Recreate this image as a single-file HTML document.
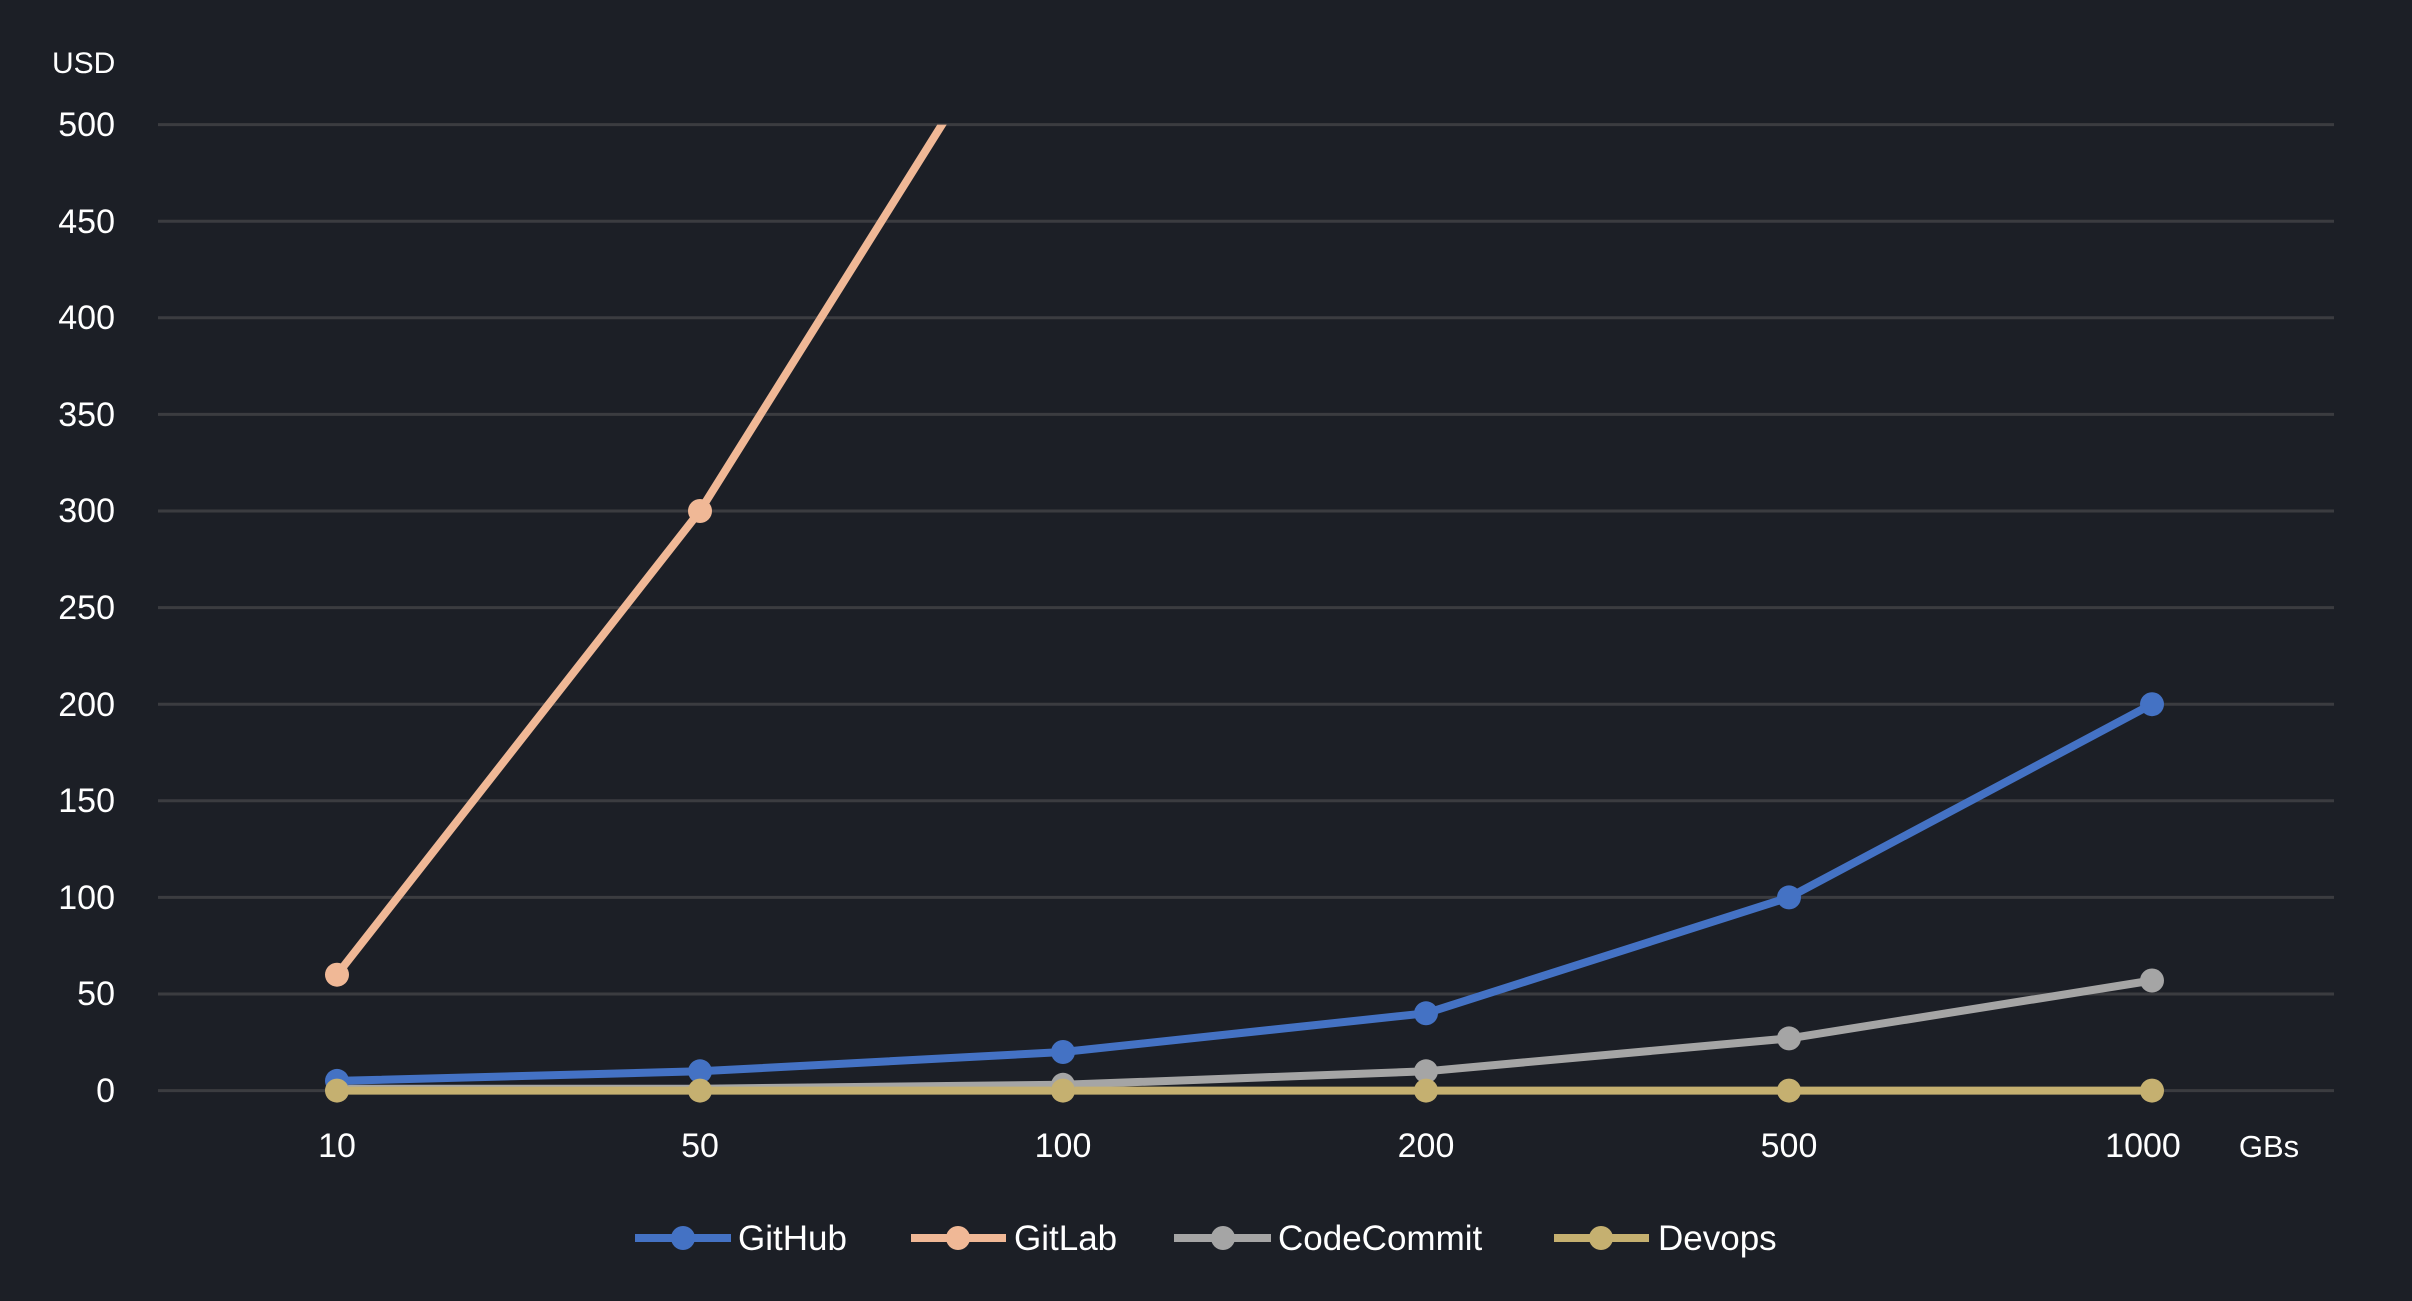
<!DOCTYPE html>
<html><head><meta charset="utf-8"><style>
html,body{margin:0;padding:0;background:#1c1f26;}
svg{display:block;font-family:"Liberation Sans",sans-serif;}
</style></head><body>
<svg width="2412" height="1301" viewBox="0 0 2412 1301" xmlns="http://www.w3.org/2000/svg">
<rect width="2412" height="1301" fill="#1c1f26"/>
<defs><clipPath id="c"><rect x="150" y="124.6" width="2200" height="1000"/></clipPath></defs>
<g stroke="#3b3c40" stroke-width="3">
<line x1="158" x2="2334" y1="124.6" y2="124.6"/>
<line x1="158" x2="2334" y1="221.2" y2="221.2"/>
<line x1="158" x2="2334" y1="317.8" y2="317.8"/>
<line x1="158" x2="2334" y1="414.4" y2="414.4"/>
<line x1="158" x2="2334" y1="511.0" y2="511.0"/>
<line x1="158" x2="2334" y1="607.6" y2="607.6"/>
<line x1="158" x2="2334" y1="704.2" y2="704.2"/>
<line x1="158" x2="2334" y1="800.8" y2="800.8"/>
<line x1="158" x2="2334" y1="897.4" y2="897.4"/>
<line x1="158" x2="2334" y1="994.0" y2="994.0"/>
<line x1="158" x2="2334" y1="1090.6" y2="1090.6"/>
</g>
<g fill="#ffffff" font-size="34" text-anchor="end">
<text x="115" y="136">500</text><text x="115" y="233">450</text><text x="115" y="329">400</text>
<text x="115" y="426">350</text><text x="115" y="522">300</text><text x="115" y="619">250</text>
<text x="115" y="716">200</text><text x="115" y="812">150</text><text x="115" y="909">100</text>
<text x="115" y="1005">50</text><text x="115" y="1102">0</text>
</g>
<text x="52" y="73" fill="#fff" font-size="30">USD</text>
<g fill="#ffffff" font-size="34" text-anchor="middle">
<text x="337" y="1157">10</text><text x="700" y="1157">50</text><text x="1063" y="1157">100</text>
<text x="1426" y="1157">200</text><text x="1789" y="1157">500</text><text x="2143" y="1157">1000</text>
<text x="2269" y="1157" font-size="31">GBs</text>
</g>
<g clip-path="url(#c)" fill="none" stroke-width="8" stroke-linejoin="round">
<polyline stroke="#f0b896" points="337,974.7 700,511 1063,-68.6"/>
<polyline stroke="#a5a5a5" points="337,1088.7 700,1088.7 1063,1084.8 1426,1071.3 1789,1038.4 2152,980.5"/>
<polyline stroke="#4472c4" points="337,1080.9 700,1071.3 1063,1052 1426,1013.3 1789,897.4 2152,704.2"/>
<polyline stroke="#c5b070" points="337,1090.6 2152,1090.6"/>
</g>
<g fill="#f0b896"><circle cx="337" cy="974.7" r="12"/><circle cx="700" cy="511" r="12"/></g>
<g fill="#4472c4"><circle cx="337" cy="1080.9" r="12"/><circle cx="700" cy="1071.3" r="12"/><circle cx="1063" cy="1052" r="12"/><circle cx="1426" cy="1013.3" r="12"/><circle cx="1789" cy="897.4" r="12"/><circle cx="2152" cy="704.2" r="12"/></g>
<g fill="#a5a5a5"><circle cx="1063" cy="1084.8" r="12"/><circle cx="1426" cy="1071.3" r="12"/><circle cx="1789" cy="1038.4" r="12"/><circle cx="2152" cy="980.5" r="12"/></g>
<g fill="#c5b070"><circle cx="337" cy="1090.6" r="12"/><circle cx="700" cy="1090.6" r="12"/><circle cx="1063" cy="1090.6" r="12"/><circle cx="1426" cy="1090.6" r="12"/><circle cx="1789" cy="1090.6" r="12"/><circle cx="2152" cy="1090.6" r="12"/></g>
<g stroke-width="8">
<line x1="635" x2="731" y1="1238" y2="1238" stroke="#4472c4"/><circle cx="683" cy="1238" r="12" fill="#4472c4"/>
<line x1="911" x2="1006" y1="1238" y2="1238" stroke="#f0b896"/><circle cx="958" cy="1238" r="12" fill="#f0b896"/>
<line x1="1174" x2="1271" y1="1238" y2="1238" stroke="#a5a5a5"/><circle cx="1223" cy="1238" r="12" fill="#a5a5a5"/>
<line x1="1554" x2="1649" y1="1238" y2="1238" stroke="#c5b070"/><circle cx="1601" cy="1238" r="12" fill="#c5b070"/>
</g>
<g fill="#fff" font-size="35">
<text x="738" y="1250">GitHub</text><text x="1014" y="1250">GitLab</text>
<text x="1278" y="1250">CodeCommit</text><text x="1658" y="1250">Devops</text>
</g>
</svg>
</body></html>
